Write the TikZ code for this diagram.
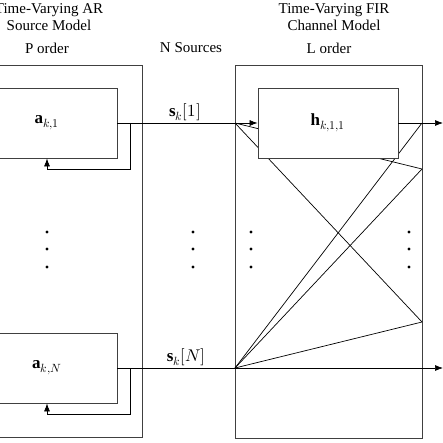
\documentclass[tikz,border=0pt]{standalone}
\usepackage{fontspec}
\setmainfont{Liberation Serif}
\usepackage{unicode-math}
\setmathfont{Latin Modern Math}
\usetikzlibrary{arrows.meta,positioning}

\tikzset{
    frame/.style={draw=black!75, line width=0.8pt},
    tapbox/.style={draw=black!75, line width=0.8pt, fill=white, minimum width=140pt, minimum height=70pt, font=\fontsize{17}{19}\selectfont},
    wire/.style={line width=0.7pt},
    sig/.style={font=\fontsize{17}{19}\selectfont},
    head/.style={font=\fontsize{15}{17}\selectfont, align=center}
}

\begin{document}
\begin{tikzpicture}[x=1pt, y=-1pt, >={Latex[length=8pt, width=6pt]}]
                \useasboundingbox (0,0) rectangle (443,443);

                % titles
                \node[head] (srctitle) at (49,17) {Time-Varying AR\\Source Model};
                \node[head] (chantitle) at (334,17) {Time-Varying FIR\\Channel Model};
                \node[head] (porder) at (47,48) {P order};
                \node[head] (nsrc) at (191,48) {N Sources};
                \node[head] (lorder) at (329,48) {L order};

                % outer boxes
                \node[frame, minimum width=172pt, minimum height=372pt] (srcbox) at (56,251) {};
                \node[frame, minimum width=187pt, minimum height=373pt] (chanbox) at (328.5,251.5) {};

                % taps in and out of the channel box
                \coordinate (in1) at (235,123);
                \coordinate (inN) at (235,368);
                \coordinate (o1) at (422,123);
                \coordinate (o2) at (422,169);
                \coordinate (o3) at (422,322);
                \coordinate (out1) at (443,123);
                \coordinate (outN) at (443,368);

                \draw[wire] (in1) -- (o2);
                \draw[wire] (in1) -- (o3);
                \draw[wire] (inN) -- (o1);
                \draw[wire] (inN) -- (o2);
                \draw[wire] (inN) -- (o3);

                % AR blocks and channel tap
                \node[tapbox] (abox1) at (47,123) {$\mathbf{a}_{k,1}$};
                \node[tapbox] (aboxN) at (47,368) {$\mathbf{a}_{k,N}$};
                \node[tapbox] (hbox) at (328,123) {$\mathbf{h}_{k,1,1}$};

                \draw[wire, ->] (abox1.east) -- (hbox.west);
                \draw[wire, ->] (hbox.east) -- (out1);
                \draw[wire, ->] (aboxN.east) -- (outN);
                \node[sig] (s1) at (185,112) {$\mathbf{s}_k[1]$};
                \node[sig] (sN) at (186,357) {$\mathbf{s}_k[N]$};

                % feedback loops
                \coordinate (fb1) at (130,123);
                \coordinate (fbN) at (130,368);
                \draw[wire, ->] (fb1) -- ++(0,46) -| (abox1.south);
                \draw[wire, ->] (fbN) -- ++(0,46) -| (aboxN.south);

                % dots
                \foreach \x in {47,193,251,409}
                    \foreach \y in {232,249,267}
                        \fill (\x,\y) circle (1.6pt);
            \end{tikzpicture}
\end{document}
